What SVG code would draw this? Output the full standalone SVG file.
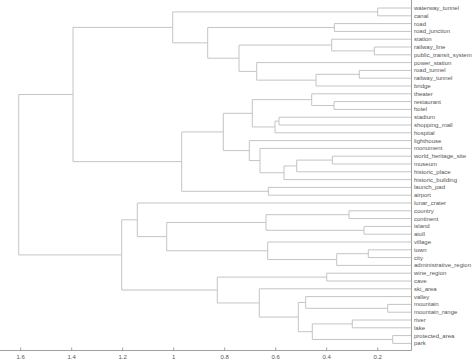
<svg xmlns="http://www.w3.org/2000/svg" width="474" height="359" viewBox="0 0 474 359">
<style>
.bg{fill:#ffffff}
.ln{fill:none;stroke:#c4c4c4;stroke-width:1}
.ax{fill:none;stroke:#a0a0a0;stroke-width:1}
.lb{font-family:"Liberation Sans",Arial,sans-serif;font-size:6px;fill:#555555}
.tk{font-family:"Liberation Sans",Arial,sans-serif;font-size:6px;fill:#555555;text-anchor:middle}
</style>
<rect class="bg" x="0" y="0" width="474" height="359"/>
<g id="connectors">
<path class="ln" d="M412 8H377.7V15.8H412"/>
<path class="ln" d="M412 23.6H334.3V31.4H412"/>
<path class="ln" d="M412 47H374.3V54.8H412"/>
<path class="ln" d="M412 39.2H331.7V50.9H374.3"/>
<path class="ln" d="M412 70.4H359.3V78.2H412"/>
<path class="ln" d="M359.3 74.3H316V86H412"/>
<path class="ln" d="M412 62.6H256.7V80.15H316"/>
<path class="ln" d="M331.7 45.05H239V71.375H256.7"/>
<path class="ln" d="M334.3 27.5H207.7V58.2H239"/>
<path class="ln" d="M377.7 11.9H172.7V42.85H207.7"/>
<path class="ln" d="M412 101.6H334V109.4H412"/>
<path class="ln" d="M412 93.8H311.7V105.5H334"/>
<path class="ln" d="M412 117.2H279V125H412"/>
<path class="ln" d="M279 121.1H275V132.8H412"/>
<path class="ln" d="M311.7 99.65H252.3V126.95H275"/>
<path class="ln" d="M412 156.2H332.3V164H412"/>
<path class="ln" d="M332.3 160.1H296.7V171.8H412"/>
<path class="ln" d="M296.7 165.95H284V179.6H412"/>
<path class="ln" d="M412 148.4H260V172.775H284"/>
<path class="ln" d="M412 140.6H249.3V160.59H260"/>
<path class="ln" d="M252.3 113.3H223.3V150.6H249.3"/>
<path class="ln" d="M412 187.4H268.3V195.2H412"/>
<path class="ln" d="M223.3 131.95H181.7V191.3H268.3"/>
<path class="ln" d="M172.7 27.375H73V161.625H181.7"/>
<path class="ln" d="M412 210.8H349V218.6H412"/>
<path class="ln" d="M412 226.4H364V234.2H412"/>
<path class="ln" d="M349 214.7H266V230.3H364"/>
<path class="ln" d="M412 249.8H368.3V257.6H412"/>
<path class="ln" d="M368.3 253.7H336.7V265.4H412"/>
<path class="ln" d="M412 242H267.7V259.55H336.7"/>
<path class="ln" d="M266 222.5H166.7V250.775H267.7"/>
<path class="ln" d="M412 203H137.3V236.64H166.7"/>
<path class="ln" d="M412 273.2H326.7V281H412"/>
<path class="ln" d="M412 304.4H387.7V312.2H412"/>
<path class="ln" d="M412 296.6H305.7V308.3H387.7"/>
<path class="ln" d="M412 320H352.3V327.8H412"/>
<path class="ln" d="M412 335.6H392.7V343.4H412"/>
<path class="ln" d="M352.3 323.9H312.3V339.5H392.7"/>
<path class="ln" d="M305.7 302.45H298.3V331.7H312.3"/>
<path class="ln" d="M412 288.8H259.3V317.075H298.3"/>
<path class="ln" d="M326.7 277.1H217.3V302.94H259.3"/>
<path class="ln" d="M137.3 219.82H121.7V290.02H217.3"/>
<path class="ln" d="M73 94.5H18.7V254.92H121.7"/>
</g>
<g id="axes">
<path class="ax" d="M0 350.5H411.5V0"/>
<path class="ax" d="M20.7 350.5v-3M71.7 350.5v-3M122.7 350.5v-3M173.7 350.5v-3M224.7 350.5v-3M275.7 350.5v-3M326.7 350.5v-3M377.7 350.5v-3"/>
<text class="tk" x="20.7" y="358.5">1.6</text>
<text class="tk" x="71.7" y="358.5">1.4</text>
<text class="tk" x="122.7" y="358.5">1.2</text>
<text class="tk" x="173.7" y="358.5">1</text>
<text class="tk" x="224.7" y="358.5">0.8</text>
<text class="tk" x="275.7" y="358.5">0.6</text>
<text class="tk" x="326.7" y="358.5">0.4</text>
<text class="tk" x="377.7" y="358.5">0.2</text>
</g>
<g id="n-waterway_tunnel"><text class="lb" x="414" y="10">waterway_tunnel</text></g>
<g id="n-canal"><text class="lb" x="414" y="17.8">canal</text></g>
<g id="n-road"><text class="lb" x="414" y="25.6">road</text></g>
<g id="n-road_junction"><text class="lb" x="414" y="33.4">road_junction</text></g>
<g id="n-station"><text class="lb" x="414" y="41.2">station</text></g>
<g id="n-railway_line"><text class="lb" x="414" y="49">railway_line</text></g>
<g id="n-public_transit_system"><text class="lb" x="414" y="56.8">public_transit_system</text></g>
<g id="n-power_station"><text class="lb" x="414" y="64.6">power_station</text></g>
<g id="n-road_tunnel"><text class="lb" x="414" y="72.4">road_tunnel</text></g>
<g id="n-railway_tunnel"><text class="lb" x="414" y="80.2">railway_tunnel</text></g>
<g id="n-bridge"><text class="lb" x="414" y="88">bridge</text></g>
<g id="n-theater"><text class="lb" x="414" y="95.8">theater</text></g>
<g id="n-restaurant"><text class="lb" x="414" y="103.6">restaurant</text></g>
<g id="n-hotel"><text class="lb" x="414" y="111.4">hotel</text></g>
<g id="n-stadium"><text class="lb" x="414" y="119.2">stadium</text></g>
<g id="n-shopping_mall"><text class="lb" x="414" y="127">shopping_mall</text></g>
<g id="n-hospital"><text class="lb" x="414" y="134.8">hospital</text></g>
<g id="n-lighthouse"><text class="lb" x="414" y="142.6">lighthouse</text></g>
<g id="n-monument"><text class="lb" x="414" y="150.4">monument</text></g>
<g id="n-world_heritage_site"><text class="lb" x="414" y="158.2">world_heritage_site</text></g>
<g id="n-museum"><text class="lb" x="414" y="166">museum</text></g>
<g id="n-historic_place"><text class="lb" x="414" y="173.8">historic_place</text></g>
<g id="n-historic_building"><text class="lb" x="414" y="181.6">historic_building</text></g>
<g id="n-launch_pad"><text class="lb" x="414" y="189.4">launch_pad</text></g>
<g id="n-airport"><text class="lb" x="414" y="197.2">airport</text></g>
<g id="n-lunar_crater"><text class="lb" x="414" y="205">lunar_crater</text></g>
<g id="n-country"><text class="lb" x="414" y="212.8">country</text></g>
<g id="n-continent"><text class="lb" x="414" y="220.6">continent</text></g>
<g id="n-island"><text class="lb" x="414" y="228.4">island</text></g>
<g id="n-atoll"><text class="lb" x="414" y="236.2">atoll</text></g>
<g id="n-village"><text class="lb" x="414" y="244">village</text></g>
<g id="n-town"><text class="lb" x="414" y="251.8">town</text></g>
<g id="n-city"><text class="lb" x="414" y="259.6">city</text></g>
<g id="n-administrative_region"><text class="lb" x="414" y="267.4">administrative_region</text></g>
<g id="n-wine_region"><text class="lb" x="414" y="275.2">wine_region</text></g>
<g id="n-cave"><text class="lb" x="414" y="283">cave</text></g>
<g id="n-ski_area"><text class="lb" x="414" y="290.8">ski_area</text></g>
<g id="n-valley"><text class="lb" x="414" y="298.6">valley</text></g>
<g id="n-mountain"><text class="lb" x="414" y="306.4">mountain</text></g>
<g id="n-mountain_range"><text class="lb" x="414" y="314.2">mountain_range</text></g>
<g id="n-river"><text class="lb" x="414" y="322">river</text></g>
<g id="n-lake"><text class="lb" x="414" y="329.8">lake</text></g>
<g id="n-protected_area"><text class="lb" x="414" y="337.6">protected_area</text></g>
<g id="n-park"><text class="lb" x="414" y="345.4">park</text></g>
</svg>
